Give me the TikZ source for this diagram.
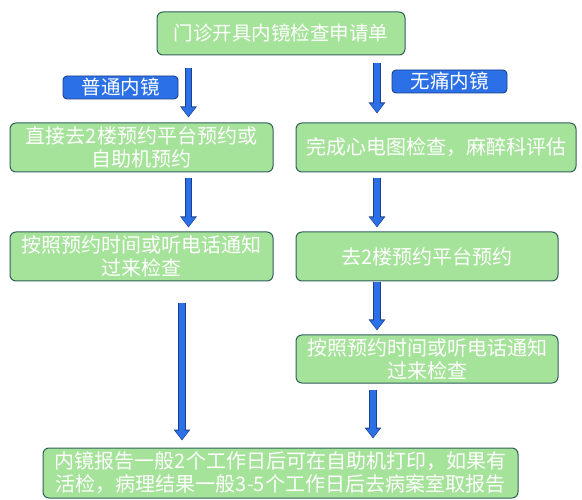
\documentclass[tikz,border=0pt]{standalone}
\usepackage{fontspec}
\newfontfamily\cjk{Noto Sans CJK SC}
\usetikzlibrary{arrows.meta}

\definecolor{boxfill}{HTML}{A6E39A}
\definecolor{boxline}{HTML}{2F5F5A}
\definecolor{tagfill}{HTML}{2B70E6}
\definecolor{tagline}{HTML}{1B3F8A}

\tikzset{
  stepbox/.style={draw=boxline, line width=1pt, fill=boxfill, rounded corners=6pt,
    text=white, align=center, inner sep=0pt,
    font=\cjk\fontsize{20}{23}\selectfont},
  tagbox/.style={draw=tagline, line width=0.9pt, fill=tagfill, rounded corners=4pt,
    text=white, inner sep=0pt, minimum width=115pt, minimum height=23pt,
    font=\cjk\fontsize{19.5}{22}\selectfont},
  flow/.style={draw=tagfill, line width=5.5pt,
    -{Triangle[width=13pt,length=9pt]},
    preaction={draw=tagline, line width=7.5pt, shorten >=-1pt,
      -{Triangle[width=16pt,length=11pt]}}}
}

\begin{document}
\begin{tikzpicture}[x=1pt,y=-1pt]
\useasboundingbox (0,0) rectangle (582,500);

\node[stepbox, minimum width=248pt, minimum height=43pt, font=\cjk\fontsize{19.5}{22}\selectfont]
  (top) at (281,33.5) {门诊开具内镜检查申请单};

\node[tagbox] (tagl) at (120.5,87.5) {普通内镜};
\node[tagbox] (tagr) at (449.5,81.5) {无痛内镜};

\node[stepbox, minimum width=263pt, minimum height=49pt]
  (lb1) at (141.5,147.5) {直接去2楼预约平台预约或\\自助机预约};
\node[stepbox, minimum width=280pt, minimum height=49pt]
  (rb1) at (436,147.5) {完成心电图检查，麻醉科评估};

\node[stepbox, minimum width=263pt, minimum height=49pt]
  (lb2) at (141.5,256.5) {按照预约时间或听电话通知\\过来检查};
\node[stepbox, minimum width=262pt, minimum height=49pt]
  (rb2) at (427,256.5) {去2楼预约平台预约};

\node[stepbox, minimum width=262pt, minimum height=48pt]
  (rb3) at (427,359) {按照预约时间或听电话通知\\过来检查};

\node[stepbox, minimum width=475pt, minimum height=50pt]
  (bot) at (280.5,473) {内镜报告一般2个工作日后可在自助机打印，如果有\\活检，病理结果一般3-5个工作日后去病案室取报告};

\draw[flow] ([xshift=-92.5pt,yshift=-13pt]top.south) -- ([xshift=47pt,yshift=6pt]lb1.north);
\draw[flow] ([xshift=96pt,yshift=-8pt]top.south) -- ([xshift=-59pt,yshift=10pt]rb1.north);

\draw[flow] ([xshift=47pt,yshift=-6pt]lb1.south) -- ([xshift=47pt,yshift=5pt]lb2.north);
\draw[flow] ([xshift=-59pt,yshift=-6pt]rb1.south) -- ([xshift=-50pt,yshift=5pt]rb2.north);

\draw[flow] ([xshift=-50pt,yshift=-1pt]rb2.south) -- ([xshift=-50pt,yshift=5pt]rb3.north);

\draw[flow] ([xshift=40.5pt,yshift=-22pt]lb2.south) -- ([xshift=-98.5pt,yshift=8pt]bot.north);
\draw[flow] ([xshift=-54pt,yshift=-6pt]rb3.south) -- ([xshift=92.5pt,yshift=10pt]bot.north);
\end{tikzpicture}
\end{document}
